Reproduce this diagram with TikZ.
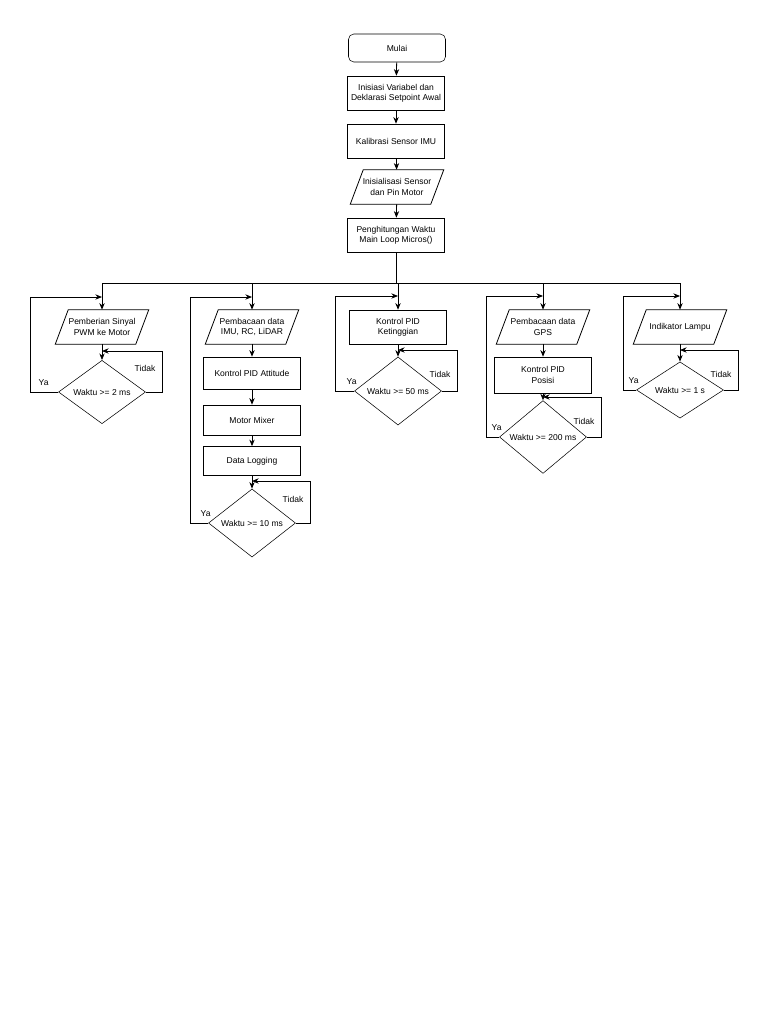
\documentclass[tikz,border=0pt]{standalone}
\usepackage{fontspec}
\setmainfont{Liberation Sans}
\usetikzlibrary{shapes.geometric,calc,arrows.meta}
\begin{document}
\begin{tikzpicture}[x=0.75pt,y=-0.75pt,
  every node/.style={font=\fontsize{6.4}{7.6}\selectfont,align=center},
  box/.style={draw,minimum width=97*0.75pt,minimum height=#1*0.75pt,inner sep=1pt},
  box/.default=34,
  pbox/.style={minimum width=80*0.75pt,minimum height=34*0.75pt,inner sep=1pt},
  dec/.style={draw,diamond,minimum width=87*0.75pt,minimum height=55*0.75pt,inner sep=0pt},
  arr/.style={-{Stealth[length=5pt,width=4pt]},line width=0.6pt},
  ln/.style={line width=0.6pt},
  lbl/.style={font=\fontsize{6.4}{7.6}\selectfont}]
\useasboundingbox (0,0) rectangle (768,1024);
\newcommand\parashape[1]{\draw[ln] ($(#1.north west)+(6.5,0)$) -- ($(#1.north east)+(6.5,0)$) -- ($(#1.south east)+(-6.5,0)$) -- ($(#1.south west)+(-6.5,0)$) -- cycle;}
% main chain
\node[box=28,rounded corners=4pt] (mulai) at (397,48) {Mulai};
\node[box] (init) at (396,93) {Inisiasi Variabel dan\\Deklarasi Setpoint Awal};
\node[box] (kal) at (396,141) {Kalibrasi Sensor IMU};
\node[pbox] (ins) at (397,187) {Inisialisasi Sensor\\dan Pin Motor};\parashape{ins}
\node[box] (hit) at (396,235) {Penghitungan Waktu\\Main Loop Micros()};
\draw[arr] (mulai) -- (init);
\draw[arr] (init) -- (kal);
\draw[arr] (kal) -- (ins);
\draw[arr] (ins) -- (hit);
\coordinate (bus) at (396,283);
\coordinate (b1) at (102,283);\coordinate (b2) at (252,283);\coordinate (b3) at (398,283);
\coordinate (b4) at (543,283);\coordinate (b5) at (680,283);
\draw[ln] (hit.south) -- (bus);
\draw[ln] (b1) -- (b5);
% column 1
\node[pbox] (p1) at (102,327) {Pemberian Sinyal\\PWM ke Motor};\parashape{p1}
\node[dec] (d1) at (102,392) {Waktu >= 2 ms};
\draw[arr] (b1) -- (p1);
\draw[arr] (p1) -- (d1);
\draw[ln] (d1.east) -| (162,351) coordinate (t1);
\draw[arr] (t1) -- (102,351);
\draw[ln] (d1.west) -| (30,297) coordinate (y1);
\draw[arr] (y1) -- (102,297);
\node[lbl,anchor=south west] at (34,390) {Ya};
\node[lbl,anchor=south east] at (160,376) {Tidak};
% column 2
\node[pbox] (p2) at (252,327) {Pembacaan data\\IMU, RC, LiDAR};\parashape{p2}
\node[box=32] (k2) at (252,373) {Kontrol PID Attitude};
\node[box=30] (m2) at (252,420) {Motor Mixer};
\node[box=29] (l2) at (252,461) {Data Logging};
\node[dec] (d2) at (252,523) {Waktu >= 10 ms};
\draw[arr] (b2) -- (p2);
\draw[arr] (p2) -- (k2);
\draw[arr] (k2) -- (m2);
\draw[arr] (m2) -- (l2);
\draw[arr] (l2) -- (d2);
\draw[ln] (d2.east) -| (310,481) coordinate (t2);
\draw[arr] (t2) -- (252,481);
\draw[ln] (d2.west) -| (190,297) coordinate (y2);
\draw[arr] (y2) -- (252,297);
\node[lbl,anchor=south west] at (196,521) {Ya};
\node[lbl,anchor=south east] at (308,507) {Tidak};
% column 3
\node[box] (k3) at (398,327) {Kontrol PID\\Ketinggian};
\node[dec] (d3) at (398,391) {Waktu >= 50 ms};
\draw[arr] (b3) -- (k3);
\draw[arr] (k3) -- (d3);
\draw[ln] (d3.east) -| (457,350) coordinate (t3);
\draw[arr] (t3) -- (398,350);
\draw[ln] (d3.west) -| (335,296) coordinate (y3);
\draw[arr] (y3) -- (398,296);
\node[lbl,anchor=south west] at (342,389) {Ya};
\node[lbl,anchor=south east] at (455,382) {Tidak};
% column 4
\node[pbox] (p4) at (543,327) {Pembacaan data\\GPS};\parashape{p4}
\node[box=36] (k4) at (543,375) {Kontrol PID\\Posisi};
\node[dec] (d4) at (543,437) {Waktu >= 200 ms};
\draw[arr] (b4) -- (p4);
\draw[arr] (p4) -- (k4);
\draw[arr] (k4) -- (d4);
\draw[ln] (d4.east) -| (601,397) coordinate (t4);
\draw[arr] (t4) -- (543,397);
\draw[ln] (d4.west) -| (486,296) coordinate (y4);
\draw[arr] (y4) -- (543,296);
\node[lbl,anchor=south west] at (487,435) {Ya};
\node[lbl,anchor=south east] at (599,429) {Tidak};
% column 5
\node[pbox] (p5) at (680,327) {Indikator Lampu};\parashape{p5}
\node[dec] (d5) at (680,390) {Waktu >= 1 s};
\draw[arr] (b5) -- (p5);
\draw[arr] (p5) -- (d5);
\draw[ln] (d5.east) -| (738,350) coordinate (t5);
\draw[arr] (t5) -- (680,350);
\draw[ln] (d5.west) -| (623,296) coordinate (y5);
\draw[arr] (y5) -- (680,296);
\node[lbl,anchor=south west] at (624,388) {Ya};
\node[lbl,anchor=south east] at (736,382) {Tidak};
\end{tikzpicture}
\end{document}
